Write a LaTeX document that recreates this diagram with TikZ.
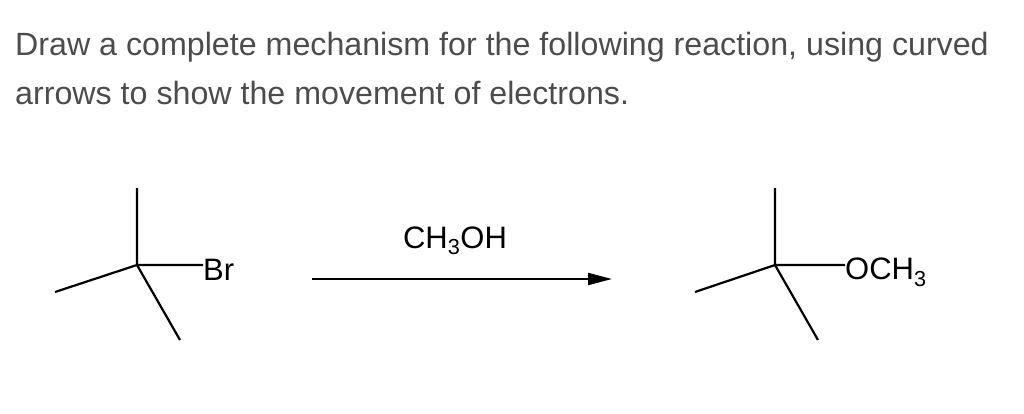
\documentclass[tikz,border=0pt]{standalone}
\usepackage{fontspec}
\setmainfont{Liberation Sans}
\usetikzlibrary{arrows.meta}
\begin{document}
\begin{tikzpicture}[x=1pt,y=-1pt,bond/.style={line width=2.2pt},
 head/.style={anchor=base west,inner sep=0,text=black!70,font=\fontsize{32.2}{36}\selectfont},
 lab/.style={inner sep=0,font=\fontsize{31}{36}\selectfont}]
\useasboundingbox (0,0) rectangle (1024,414);
\node[head] (h1) at (15,56) {Draw a complete mechanism for the following reaction, using curved};
\node[head] (h2) at (15,105) {arrows to show the movement of electrons.};
% left molecule
\coordinate (c1) at (137,265);
\coordinate (t1) at (137,188);
\coordinate (l1) at (55,292);
\coordinate (d1) at (180,340);
\coordinate (r1) at (203,265);
\draw[bond] (t1)--(c1) (l1)--(c1) (d1)--(c1) (c1)--(r1);
\node[lab,anchor=west] (br) at (203,270) {Br};
% arrow
\coordinate (a1) at (312,279);
\coordinate (a2) at (612,279);
\draw[line width=2pt,-{Triangle[length=24pt,width=12pt]}] (a1)--(a2);
\node[lab,anchor=base] (re) at (455,248) {CH\textsubscript{3}OH};
% right molecule
\coordinate (c2) at (775,265);
\coordinate (t2) at (775,188);
\coordinate (l2) at (695,292);
\coordinate (d2) at (818,340);
\coordinate (r2) at (845,265);
\draw[bond] (t2)--(c2) (l2)--(c2) (d2)--(c2) (c2)--(r2);
\node[lab,anchor=west] (oc) at (845,272) {OCH\textsubscript{3}};
\end{tikzpicture}
\end{document}
